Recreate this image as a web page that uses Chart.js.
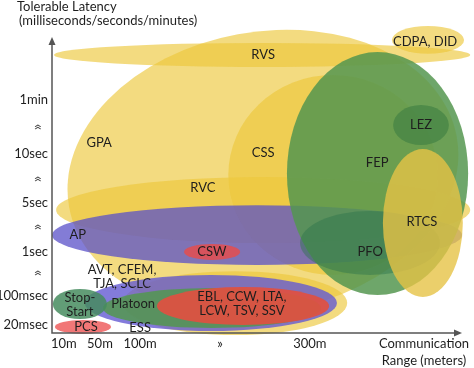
<!DOCTYPE html>
<html>
<head>
<meta charset="utf-8">
<script src="https://cdn.jsdelivr.net/npm/chart.js@4"></script>
<style>
  html, body { margin: 0; padding: 0; background: #fff; }
  canvas { display: block; }
</style>
</head>
<body>
<canvas id="c" width="474" height="368"></canvas>
<script>
// ---- Data (axis units: range 0..100 left->right, latency 0..100 bottom->top) ----
const services = ['GPA','CSS','RVS','RVC','AP','FEP','LEZ','PFO','RTCS','CDPA','CSW','ESS','AVT','Platoon','StopStart','PCS','EBL'];
const labelText = ['GPA','CSS','RVS','RVC','AP','FEP','LEZ','PFO','RTCS','CDPA, DID','CSW','ESS','AVT, CFEM,\nTJA, SCLC','Platoon','Stop-\nStart','PCS','EBL, CCW, LTA,\nLCW, TSV, SSV'];
const rangeMin = [3.4, 43.0, 0.5, 1.0, 0.0, 57.3, 83.2, 60.5, 80.7, 82.9, 32.2, 17.3, 8.0, 12.4, 0.2, 0.7, 25.6];
const rangeMax = [99.5, 94.1, 102, 102, 100, 101.5, 96.8, 94.6, 100.2, 100.5, 45.9, 72.0, 69.5, 65.6, 13.4, 14.4, 67.6];
const latencyMin = [7.1, 19.6, 89.9, 30.4, 23.0, 12.8, 63.5, 19.6, 12.2, 94.3, 24.7, -0.7, 0.7, 1.7, 4.7, -0.3, 2.7];
const latencyMax = [101.7, 87.2, 98.0, 52.7, 43.2, 94.9, 77.0, 41.2, 62.2, 103.7, 30.1, 20.9, 19.6, 15.2, 14.9, 4.4, 15.5];
const labelRange = [11.5, 51.5, 51.5, 36.8, 6.3, 79.3, 90.0, 77.6, 90.2, 91.0, 39.0, 21.5, 17.1, 19.8, 6.8, 8.3, 46.3];
const labelLatency = [64.2, 60.8, 93.9, 49.0, 33.1, 57.4, 70.3, 27.4, 37.5, 98.3, 27.4, 1.7, 18.9, 9.8, 9.5, 2.0, 9.8];

const xTickLabels = ['10m','50m','100m','»','300m'];
const xTickValues = [2.9, 11.7, 21.5, 41.0, 62.9];
const yTickLabels = ['20msec','100msec','BREAK','1sec','BREAK','5sec','BREAK','10sec','BREAK','1min'];
const yTickValues = [2.7, 12.5, 20.3, 27.4, 35.8, 43.9, 52.0, 60.5, 69.6, 78.7];

const yTitle = ['Tolerable Latency', '(milliseconds/seconds/minutes)'];
const xTitle = ['Communication', 'Range (meters)'];

// ---- Styles ----
const Y = 'rgba(236,200,60,0.65)';
const styles = {
  GPA: { fill: Y, tilt: -0.18 },
  CSS: { fill: Y }, RVS: { fill: Y }, RVC: { fill: Y },
  AP: { fill: 'rgba(90,80,200,0.75)' },
  FEP: { fill: 'rgba(85,150,80,0.85)' },
  LEZ: { fill: 'rgba(60,125,65,0.6)' },
  PFO: { fill: 'rgba(45,115,75,0.45)' },
  RTCS: { fill: 'rgba(230,195,70,0.8)' },
  CDPA: { fill: Y },
  CSW: { fill: 'rgba(228,78,78,0.85)' },
  ESS: { fill: Y },
  AVT: { fill: 'rgba(100,90,210,0.8)' },
  Platoon: { fill: 'rgba(85,150,85,0.9)' },
  StopStart: { fill: 'rgba(70,140,95,0.85)' },
  PCS: { fill: 'rgba(238,95,95,0.85)' },
  EBL: { fill: 'rgba(225,80,65,0.92)' }
};
const FONT = 'Lato, "Open Sans", sans-serif';
const FS = 13;
const TXT = '#1e1e1e';
const AXIS = '#555';

const diagram = {
  id: 'diagram',
  beforeDatasetsDraw(chart) {
    const { ctx, scales: { x, y } } = chart;
    ctx.save();
    services.forEach((s, i) => {
      const x0 = x.getPixelForValue(rangeMin[i]), x1 = x.getPixelForValue(rangeMax[i]);
      const y0 = y.getPixelForValue(latencyMin[i]), y1 = y.getPixelForValue(latencyMax[i]);
      const st = styles[s];
      ctx.beginPath();
      ctx.ellipse((x0 + x1) / 2, (y0 + y1) / 2, Math.abs(x1 - x0) / 2, Math.abs(y1 - y0) / 2, st.tilt || 0, 0, Math.PI * 2);
      ctx.fillStyle = st.fill;
      ctx.fill();
    });
    ctx.restore();
  },
  afterDraw(chart) {
    const { ctx, scales: { x, y }, chartArea: a } = chart;
    ctx.save();
    // labels
    ctx.fillStyle = TXT;
    ctx.font = FS + 'px ' + FONT;
    ctx.textAlign = 'center';
    ctx.textBaseline = 'middle';
    services.forEach((s, i) => {
      const lines = labelText[i].split('\n');
      const px = x.getPixelForValue(labelRange[i]);
      const py = y.getPixelForValue(labelLatency[i]);
      const lh = 14.5;
      lines.forEach((ln, k) => ctx.fillText(ln, px, py + (k - (lines.length - 1) / 2) * lh));
    });
    // axes
    ctx.strokeStyle = AXIS; ctx.fillStyle = AXIS; ctx.lineWidth = 1.5;
    ctx.beginPath();
    ctx.moveTo(a.left, a.top + 6); ctx.lineTo(a.left, a.bottom); ctx.lineTo(a.right - 6, a.bottom);
    ctx.stroke();
    ctx.beginPath();
    ctx.moveTo(a.left, a.top); ctx.lineTo(a.left - 3.5, a.top + 8); ctx.lineTo(a.left + 3.5, a.top + 8); ctx.closePath(); ctx.fill();
    ctx.beginPath();
    ctx.moveTo(a.right, a.bottom); ctx.lineTo(a.right - 8, a.bottom - 3.5); ctx.lineTo(a.right - 8, a.bottom + 3.5); ctx.closePath(); ctx.fill();
    // y ticks
    ctx.fillStyle = TXT;
    yTickLabels.forEach((t, i) => {
      const py = y.getPixelForValue(yTickValues[i]);
      if (t === 'BREAK') {
        ctx.save();
        ctx.translate(37, py);
        ctx.rotate(-Math.PI / 2);
        ctx.fillStyle = '#444';
        ctx.font = '15px ' + FONT;
        ctx.textAlign = 'center';
        ctx.fillText('»', 0, 0);
        ctx.restore();
      } else {
        ctx.font = FS + 'px ' + FONT;
        ctx.textAlign = 'right';
        ctx.fillText(t, a.left - 4, py);
      }
    });
    // x ticks
    ctx.font = FS + 'px ' + FONT;
    ctx.textAlign = 'center';
    xTickLabels.forEach((t, i) => {
      ctx.fillText(t, x.getPixelForValue(xTickValues[i]), a.bottom + 11);
    });
    // titles
    ctx.textAlign = 'left';
    ctx.fillText(yTitle[0], 17, 7);
    ctx.fillText(yTitle[1], 19, 21);
    ctx.textAlign = 'center';
    ctx.fillText(xTitle[0], 424, a.bottom + 11);
    ctx.fillText(xTitle[1], 424, a.bottom + 28);
    ctx.restore();
  }
};

new Chart(document.getElementById('c'), {
  type: 'scatter',
  data: { datasets: [{ data: [] }] },
  options: {
    responsive: false,
    devicePixelRatio: 1,
    animation: false,
    events: [],
    layout: { padding: { left: 52, right: 12, top: 37, bottom: 35 } },
    scales: {
      x: { type: 'linear', min: 0, max: 100, display: false },
      y: { type: 'linear', min: 0, max: 100, display: false }
    },
    plugins: { legend: { display: false }, tooltip: { enabled: false } }
  },
  plugins: [diagram]
});
</script>
</body>
</html>
